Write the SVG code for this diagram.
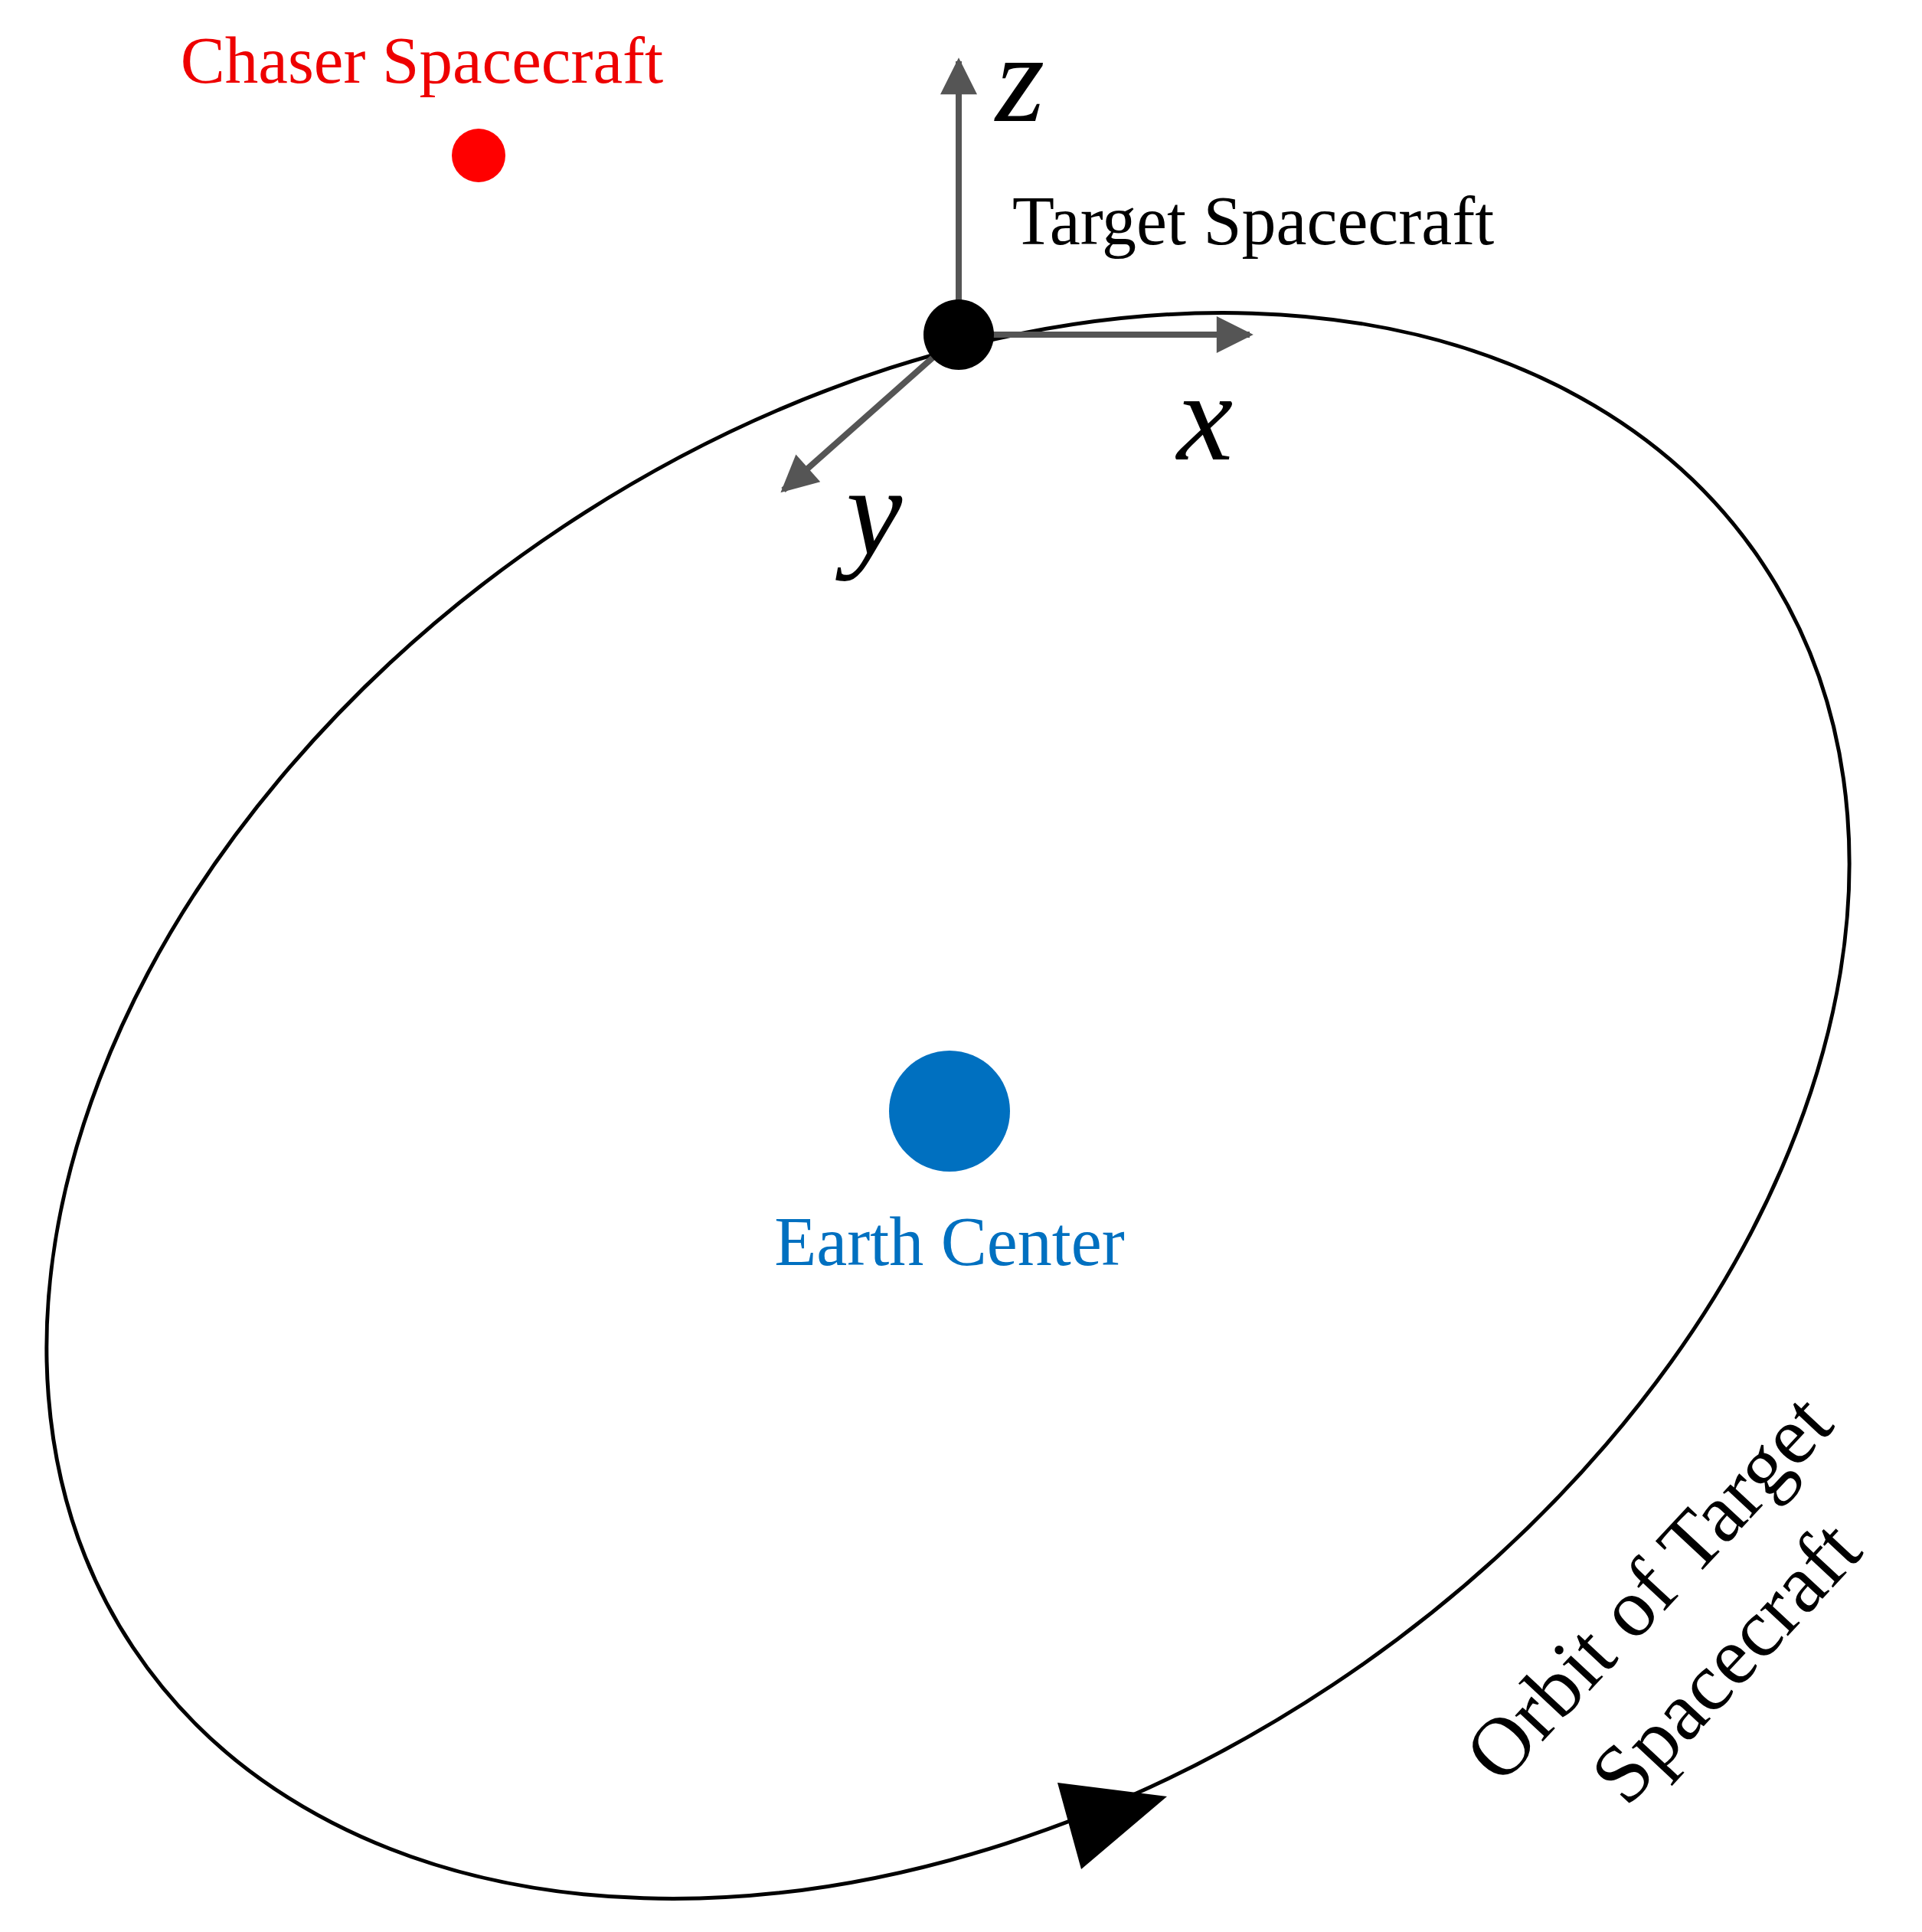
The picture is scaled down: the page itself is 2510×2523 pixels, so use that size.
<svg xmlns="http://www.w3.org/2000/svg" width="2510" height="2523" viewBox="0 0 2510 2523">
<style>
.t{font-family:"Liberation Serif",serif;}
.ax{stroke:#555;stroke-width:8;fill:none;}
.ital{font-family:"Liberation Serif",serif;font-style:italic;font-size:165px;fill:#000;}
</style>
<defs>
<marker id="ah" viewBox="0 0 10 10" refX="9" refY="5" markerWidth="8" markerHeight="6" markerUnits="strokeWidth" orient="auto"><path d="M0,0 L10,5 L0,10 z" fill="#555"/></marker>
</defs>
<rect width="2510" height="2523" fill="#fff"/>
<g id="orbit">
<ellipse cx="1238" cy="1444" rx="1278" ry="908" transform="rotate(-33.6 1238 1444)" fill="none" stroke="#000" stroke-width="5"/>
<polygon points="1381,2328 1524,2346 1412,2441" fill="#000"/>
<text class="t" font-size="108" text-anchor="middle" transform="translate(2179,2098) rotate(-47)">Orbit of Target</text>
<text class="t" font-size="108" text-anchor="middle" transform="translate(2280,2195) rotate(-47)">Spacecraft</text>
</g>
<g id="connectors">
<line class="ax" x1="1252" y1="437" x2="1252" y2="80" marker-end="url(#ah)"/>
<line class="ax" x1="1252" y1="437" x2="1632" y2="437" marker-end="url(#ah)"/>
<line class="ax" x1="1252" y1="437" x2="1023" y2="640" marker-end="url(#ah)"/>
</g>
<g id="target">
<circle cx="1252" cy="437" r="46" fill="#000"/>
<text class="t" x="1322" y="319" font-size="90">Target Spacecraft</text>
<text class="ital" x="1300" y="158">z</text>
<text class="ital" x="1537" y="600">x</text>
<text class="ital" x="1105" y="724">y</text>
</g>
<g id="chaser">
<circle cx="625" cy="203" r="35" fill="#f00"/>
<text class="t" x="551" y="108" font-size="87" text-anchor="middle" fill="#e00">Chaser Spacecraft</text>
</g>
<g id="earth">
<circle cx="1240" cy="1451" r="79" fill="#0070c0"/>
<text class="t" x="1240" y="1652" font-size="90" text-anchor="middle" fill="#0070c0">Earth Center</text>
</g>
</svg>
